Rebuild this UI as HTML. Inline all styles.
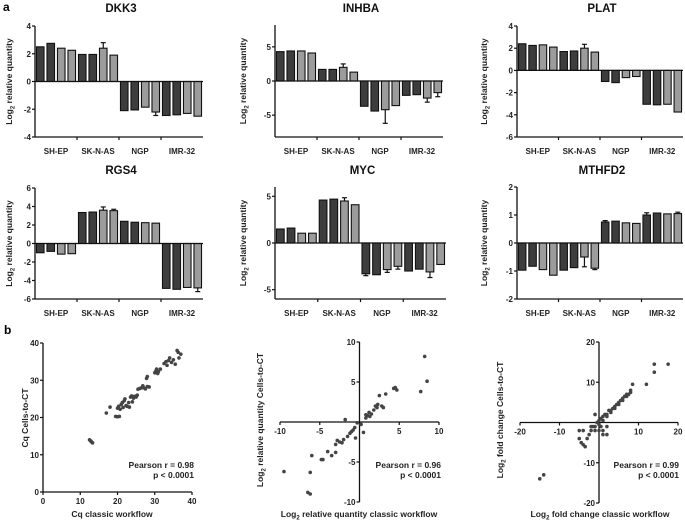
<!DOCTYPE html>
<html><head><meta charset="utf-8"><style>
body{margin:0;background:#fff;}
svg{display:block;font-family:"Liberation Sans",Arial,sans-serif;}
.tk{font-size:8px;font-weight:bold;fill:#222;}
.tt{font-size:11.5px;font-weight:bold;fill:#111;}
.yt{font-size:8.5px;font-weight:bold;fill:#222;}
</style></head><body>
<svg id="fig" width="685" height="522" viewBox="0 0 685 522">
<text x="3" y="11" style="font-size:12px;font-weight:bold">a</text>
<text x="4" y="334" style="font-size:12px;font-weight:bold">b</text>
</svg>
<script>
const groups = ["SH-EP","SK-N-AS","NGP","IMR-32"];
const dkk3 = [2.5,2.75,2.4,2.25,1.95,1.95,2.4,1.9,-2.1,-2.05,-1.85,-2.2,-2.45,-2.4,-2.3,-2.5];
const dkk3Err = [0,0,0,0,0,0,0.4,0,0,0,0,0.25,0,0,0,0];
const inhba = [4.3,4.4,4.4,4.1,1.7,1.7,2.0,1.3,-3.7,-4.4,-4.2,-3.6,-2.1,-2.0,-2.5,-1.7];
const inhbaErr = [0,0,0,0,0,0,0.5,0,0,0,2.0,0,0,0,0.6,0.6];
const plat = [2.4,2.25,2.3,2.1,1.7,1.75,2.0,1.65,-1.0,-1.1,-0.65,-0.55,-3.05,-3.1,-3.05,-3.75];
const platErr = [0,0,0,0,0,0,0.35,0,0,0,0,0,0,0,0,0];
const rgs4 = [-1.0,-0.85,-1.15,-1.1,3.35,3.4,3.6,3.55,2.4,2.3,2.25,2.2,-4.85,-4.95,-4.75,-4.8];
const rgs4Err = [0,0,0,0,0,0,0.35,0.15,0,0,0,0,0,0,0,0.4];
const myc = [1.5,1.6,1.05,1.05,4.6,4.7,4.5,4.1,-3.3,-3.4,-2.85,-2.5,-3.0,-2.8,-3.1,-2.3];
const mycErr = [0,0,0,0,0,0,0.35,0,0.2,0,0.3,0.3,0,0,0.6,0];
const mthfd2 = [-0.97,-0.83,-0.95,-1.15,-0.97,-0.88,-0.5,-0.9,0.75,0.78,0.72,0.7,1.0,1.07,1.04,1.05];
const mthfd2Err = [0,0,0,0,0,0,0.35,0.05,0.05,0,0,0,0.08,0,0,0.05];
const cqX = [12.5,12.8,13,13.3,17,18,19.5,20,20.5,20,20.3,20.7,21,21.3,21.5,21.8,22,22.3,22.6,23,23.2,23.5,23.8,24,24.3,24.6,25,25.3,25.5,26,26.5,26.8,27,27.5,28,27.8,28,28.5,30,30.3,30.5,30.8,31,31.5,32.5,33,33.3,33.7,34,34.5,35,35.5,36,36.3,36.5,37];
const cqY = [14,13.7,13.5,13.2,21.2,22.8,20.3,20.2,20.3,22.5,23,22.2,23.5,24,22.7,24.5,25,23.2,23,24,22.8,25.5,25.8,24.2,25.2,25.7,25.5,26,27.6,27.8,28,28.5,28,27.7,28.3,30.5,31,28.2,32,32.5,33,31.8,32.3,33,34.5,35,34,35.3,36,34.8,35.5,34.3,38,37.5,36,37];
const rqX = [-9.5,-6.5,-6.2,-6.2,-6,-4.8,-4.6,-4,-3.5,-3,-3,-2.8,-2.5,-2.2,-2,-1.8,-1.5,-1.2,-0.8,-0.6,-0.5,-0.3,0.2,0.5,0.8,1,1.3,1.5,1.8,2,2.2,2.3,2.5,2.8,3,3.3,4.3,4.5,4.7,7.7,8.2,8.5,1.2,0.8,-1];
const rqY = [-6.2,-8.8,-9,-6.3,-4.2,-4.7,-4.7,-3.7,-4.2,-3.8,-2.8,-2.3,-2.5,-2.6,-2.2,0.3,-1.8,-1.4,-1,-0.7,-2,-0.1,-0.3,-1.3,0.5,0.8,0.7,1,1.5,2,1.8,2.2,3.3,2,1.8,3.5,4.2,4.3,4,3.8,8.2,5.1,1.2,0.9,-1.2];
const fcX = [-15,-14,-5,-4,-5,-4.5,-3,-2.5,-3.5,-2,-1.5,-1,-0.5,0,0.5,1,1.5,2,2.5,3,3.5,4,4.5,5,5.5,6,6.5,7,7.5,8,8.5,8,7,6,5,4,3,2,1,0,-1,-2,0.5,1,2,-1,0,1,2,12,14,14,17.5,-4];
const fcY = [-14,-13,-2,-2,-4,-5,-4,-3,-6,-2,-1,-1,0,0.5,1,1.5,2,2,3,3,3.5,4,4.5,5,5.5,6,6.5,7,7,8,9.5,7.5,6.5,5.5,4.5,3.5,2.5,1.5,0.5,-0.5,-2,-1,-1,-2,-3,2,-2,-3,-1,9.5,14.5,12.5,14.5,-5.5];

const NS="http://www.w3.org/2000/svg";
const svg=document.getElementById('fig');
function mk(tag,attrs,parent){const e=document.createElementNS(NS,tag);for(const k in attrs)e.setAttribute(k,attrs[k]);(parent||svg).appendChild(e);return e;}
function txt(x,y,s,cls,anchor,parent){const t=mk('text',{x:x,y:y,class:cls,'text-anchor':anchor||'middle'},parent);t.textContent=s;return t;}
function log2Title(g,x,y,rest){
  const t=mk('text',{x:0,y:0,class:'yt','text-anchor':'middle',transform:`translate(${x},${y}) rotate(-90)`},g);
  const a=mk('tspan',{},t);a.textContent='Log';
  const b=mk('tspan',{dy:'2.5','font-size':'6px'},t);b.textContent='2';
  const c=mk('tspan',{dy:'-2.5'},t);c.textContent=' '+rest;
  return t;
}

function barPanel(name,title,vals,errs,x0,x1,yTop,yBot,vmin,vmax,ticks,titleY,ytX){
  const g=mk('g',{});
  
  
  const ys=v=>yBot-(v-vmin)/(vmax-vmin)*(yBot-yTop);
  const t=txt((x0+x1)/2+2,titleY,title,'tt','middle',g);
  
  
  const slot=(x1-x0)/16, bw=slot*0.72;
  vals.forEach((v,i)=>{
    const cx=x0+slot*(i+0.5);
    const dark=(i%4)<2;
    const y0=ys(0),yv=ys(v);
    const r=mk('rect',{x:cx-bw/2,y:Math.min(y0,yv),width:bw,height:Math.abs(yv-y0),fill:dark?'#3d3d3d':'#9c9c9c',stroke:'#111','stroke-width':1.1},g);
    
    
    if(errs[i]>0){
      const ye=ys(v+(v>=0?errs[i]:-errs[i]));
      mk('line',{x1:cx,x2:cx,y1:yv,y2:ye,stroke:'#111','stroke-width':1.2},g);
      mk('line',{x1:cx-2.5,x2:cx+2.5,y1:ye,y2:ye,stroke:'#111','stroke-width':1.2},g);
    }
  });
  mk('line',{x1:x0,x2:x0,y1:yTop,y2:yBot,stroke:'#111','stroke-width':1.3},g);
  mk('line',{x1:x0,x2:x1,y1:yBot,y2:yBot,stroke:'#111','stroke-width':1.3},g);
  mk('line',{x1:x0,x2:x1,y1:ys(0),y2:ys(0),stroke:'#111','stroke-width':1.3},g);
  ticks.forEach(tv=>{const y=ys(tv);mk('line',{x1:x0-3,x2:x0,y1:y,y2:y,stroke:'#111','stroke-width':1.2},g);txt(x0-4,y+3,String(tv),'tk','end',g);});
  groups.forEach((gn,k)=>{
    const cx=x0+slot*(4*k+2);
    const l=txt(cx,yBot+17,gn,'tk','middle',g);
    
    
    if(k>0){const bx=x0+slot*4*k;mk('line',{x1:bx,x2:bx,y1:yBot,y2:yBot+3,stroke:'#111','stroke-width':1.2},g);}
  });
  const yt=log2Title(g,ytX,(yTop+yBot)/2,'relative quantity');
  
  
}
barPanel('dkk3','DKK3',dkk3,dkk3Err,35,203,26,137,-4,4,[4,2,0,-2,-4],12,12);
barPanel('inhba','INHBA',inhba,inhbaErr,275,443,25,137,-8.2,8.2,[5,0,-5],12,246);
barPanel('plat','PLAT',plat,platErr,517,683,26,137,-6,4,[4,2,0,-2,-4,-6],12,487);
barPanel('rgs4','RGS4',rgs4,rgs4Err,35,203,188,299,-6,6,[6,4,2,0,-2,-4,-6],174,12);
barPanel('myc','MYC',myc,mycErr,275,446,187,299,-6,6,[5,0,-5],174,246);
barPanel('mthfd2','MTHFD2',mthfd2,mthfd2Err,517,683,187,299,-2,2,[2,1,0,-1,-2],174,487);

function scatter(name,xs,ys,cfg){
  const g=mk('g',{});
  
  
  const sx=v=>cfg.px0+(v-cfg.xmin)/(cfg.xmax-cfg.xmin)*(cfg.px1-cfg.px0);
  const sy=v=>cfg.py1-(v-cfg.ymin)/(cfg.ymax-cfg.ymin)*(cfg.py1-cfg.py0);
  const ax=sx(cfg.yAxisAt), ay=sy(cfg.xAxisAt);
  mk('line',{x1:ax,x2:ax,y1:cfg.py0,y2:cfg.py1,stroke:'#111','stroke-width':1.3},g);
  mk('line',{x1:cfg.px0,x2:cfg.px1,y1:ay,y2:ay,stroke:'#111','stroke-width':1.3},g);
  cfg.xt.forEach(v=>{const x=sx(v);mk('line',{x1:x,x2:x,y1:ay,y2:ay+3,stroke:'#111','stroke-width':1.2},g);if(!(cfg.skip0&&v===0))txt(x,ay+12,String(v),'tk','middle',g);});
  cfg.yt.forEach(v=>{const y=sy(v);mk('line',{x1:ax-3,x2:ax,y1:y,y2:y,stroke:'#111','stroke-width':1.2},g);if(!(cfg.skip0&&v===0))txt(ax-4,y+3,String(v),'tk','end',g);});
  xs.forEach((x,i)=>{
    const c=mk('circle',{cx:sx(x),cy:sy(ys[i]),r:1.8,fill:'#444'},g);
    
    
  });
  let xtl,ytl;
  if(cfg.log2){
    xtl=mk('text',{x:cfg.xtX,y:517,class:'yt','text-anchor':'middle'},g);
    const a=mk('tspan',{},xtl);a.textContent='Log';
    const b=mk('tspan',{dy:'2.5','font-size':'6px'},xtl);b.textContent='2';
    const c=mk('tspan',{dy:'-2.5'},xtl);c.textContent=' '+cfg.xTitle;
    ytl=log2Title(g,cfg.ytX,cfg.ytY,cfg.yTitle);
  } else {
    xtl=txt(cfg.xtX,517,cfg.xTitle,'yt','middle',g);
    ytl=mk('text',{x:0,y:0,class:'yt','text-anchor':'middle',transform:`translate(${cfg.ytX},${cfg.ytY}) rotate(-90)`},g);
    ytl.textContent=cfg.yTitle;
  }
  
  
  
  
  const p1=txt(cfg.prX,468,cfg.r,'yt','end',g);
  
  
  const p2=txt(cfg.prX,478,'p < 0.0001','yt','end',g);
  
  
}
scatter('cq',cqX,cqY,{px0:43,px1:192,py0:343,py1:492,xmin:0,xmax:40,ymin:0,ymax:40,yAxisAt:0,xAxisAt:0,
  xt:[0,10,20,30,40],yt:[0,10,20,30,40],xTitle:'Cq classic workflow',yTitle:'Cq Cells-to-CT',xtX:112,ytX:28,ytY:418,prX:194,r:'Pearson r = 0.98'});
scatter('rq',rqX,rqY,{px0:280,px1:439,py0:342,py1:502,xmin:-10,xmax:10,ymin:-10,ymax:10,yAxisAt:0,xAxisAt:0,skip0:true,
  xt:[-10,-5,0,5,10],yt:[10,5,0,-5,-10],xTitle:'relative quantity classic workflow',yTitle:'relative quantity Cells-to-CT',xtX:359,ytX:263,ytY:420,prX:441,r:'Pearson r = 0.96',log2:true});
scatter('fc',fcX,fcY,{px0:520,px1:678,py0:342,py1:503,xmin:-20,xmax:20,ymin:-20,ymax:20,yAxisAt:0,xAxisAt:0,skip0:true,
  xt:[-20,-10,0,10,20],yt:[20,10,0,-10,-20],xTitle:'fold change classic workflow',yTitle:'fold change Cells-to-CT',xtX:600,ytX:503,ytY:420,prX:679,r:'Pearson r = 0.99',log2:true});
</script>
</body></html>
